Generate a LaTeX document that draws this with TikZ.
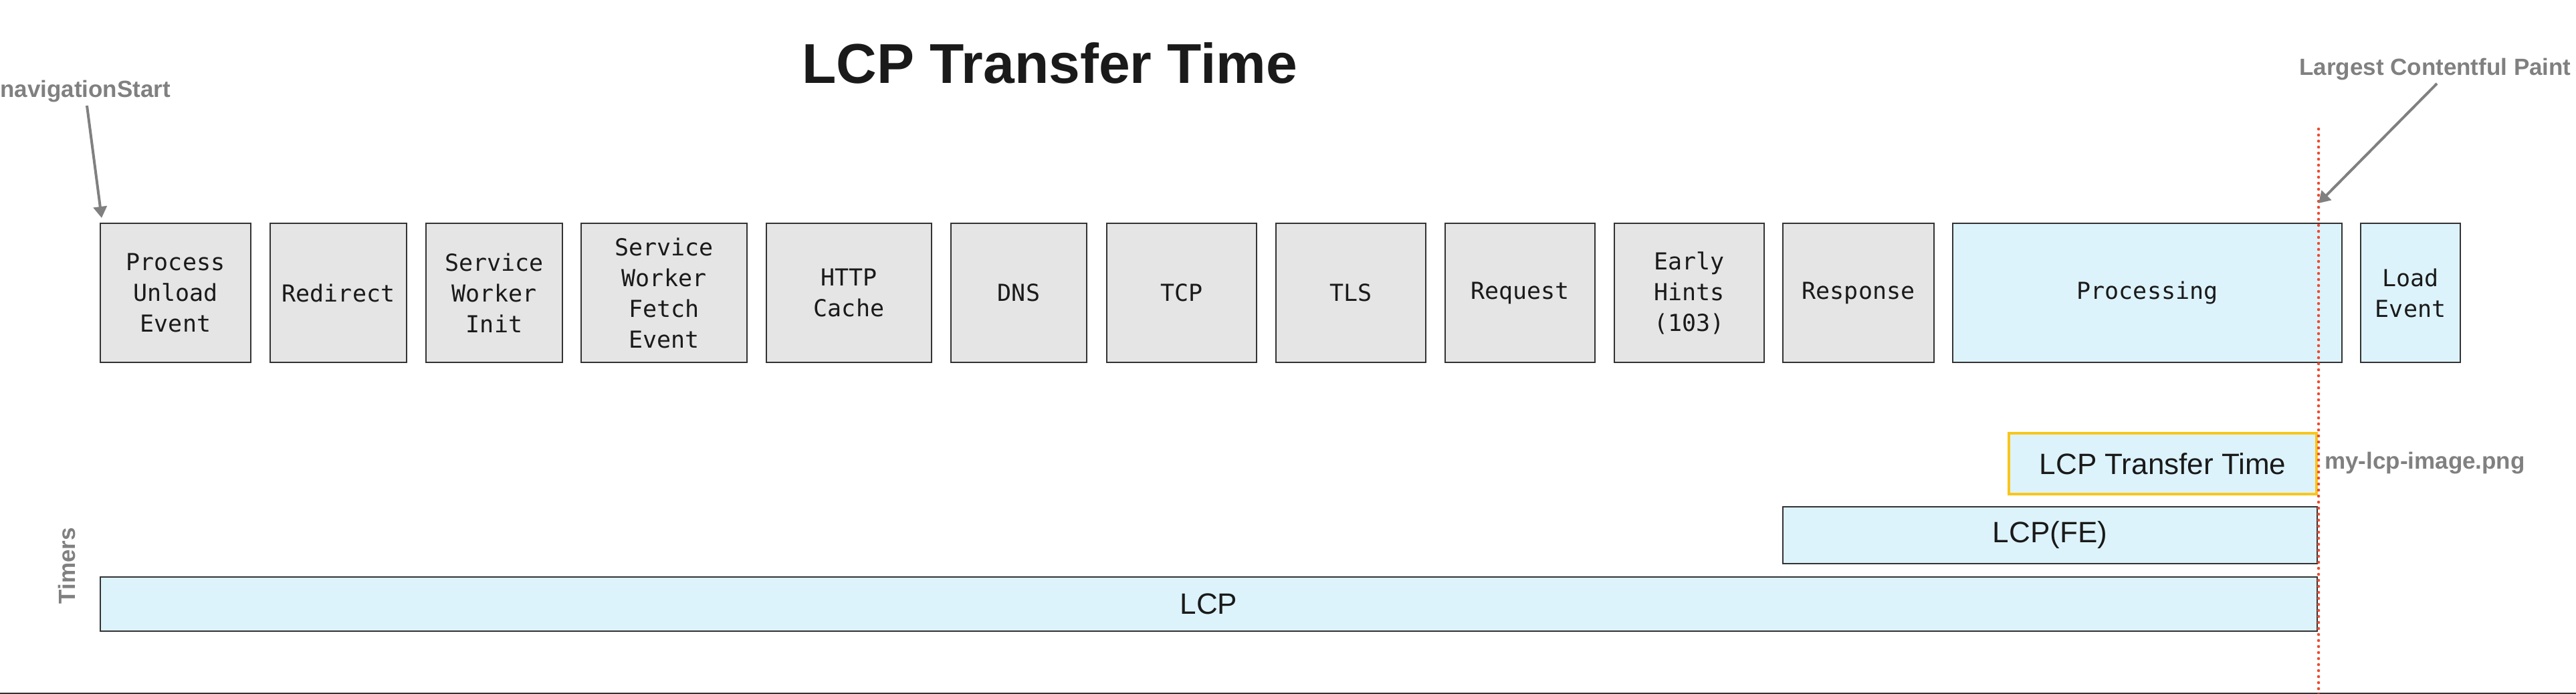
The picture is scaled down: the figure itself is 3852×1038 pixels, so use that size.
\documentclass[tikz,border=0pt]{standalone}
\usepackage{fontspec}
\setmainfont{Liberation Sans}
\newfontfamily\monof{DejaVu Sans Mono}
\usetikzlibrary{arrows.meta}
\definecolor{boxgray}{HTML}{E5E5E5}
\definecolor{boxblue}{HTML}{DDF3FB}
\definecolor{edge}{HTML}{333333}
\definecolor{labelgray}{HTML}{808080}
\definecolor{lcpred}{HTML}{F04A2F}
\definecolor{lcpyellow}{HTML}{F8C61B}
\definecolor{ink}{HTML}{1A1A1A}
\tikzset{
  phase/.style={draw=edge, line width=2pt, inner sep=0pt, anchor=north west,
    minimum height=208pt, align=center, text=ink,
    font=\monof\fontsize{35}{46}\selectfont},
  grayphase/.style={phase, fill=boxgray},
  bluephase/.style={phase, fill=boxblue},
  timer/.style={draw=edge, line width=2pt, fill=boxblue, inner sep=0pt, anchor=north west,
    text=ink, font=\fontsize{44}{50}\selectfont},
  note/.style={text=labelgray, inner sep=0pt, font=\bfseries\fontsize{35}{40}\selectfont},
  pointer/.style={draw=labelgray, line width=4pt, -{Triangle[length=17pt,width=20pt]}}
}
\begin{document}
\begin{tikzpicture}[x=1pt,y=-1pt]
\useasboundingbox (0,0) rectangle (3852,1038);
% title
\node[anchor=base, inner sep=0pt, text=ink, font=\bfseries\fontsize{84}{90}\selectfont] (title) at (1570,125) {LCP Transfer Time};
% phases
\node[grayphase, minimum width=225pt] (p1) at (149,333) {Process\\Unload\\Event};
\node[grayphase, minimum width=204pt] (p2) at (403,333) {Redirect};
\node[grayphase, minimum width=204pt] (p3) at (636,333) {Service\\Worker\\Init};
\node[grayphase, minimum width=248pt] (p4) at (868,333) {Service\\Worker\\Fetch\\Event};
\node[grayphase, minimum width=247pt] (p5) at (1145,333) {HTTP\\Cache};
\node[grayphase, minimum width=203pt] (p6) at (1421,333) {DNS};
\node[grayphase, minimum width=224pt] (p7) at (1654,333) {TCP};
\node[grayphase, minimum width=224pt] (p8) at (1907,333) {TLS};
\node[grayphase, minimum width=224pt] (p9) at (2160,333) {Request};
\node[grayphase, minimum width=224pt] (p10) at (2413,333) {Early\\Hints\\(103)};
\node[grayphase, minimum width=226pt] (p11) at (2665,333) {Response};
\node[bluephase, minimum width=582pt] (p12) at (2919,333) {Processing};
\node[bluephase, minimum width=149pt] (p13) at (3529,333) {Load\\Event};
% timers
\node[timer, draw=lcpyellow, line width=4pt, minimum width=460pt, minimum height=91pt] (ltt) at (3002,646) {LCP Transfer Time};
\node[timer, minimum width=799pt, minimum height=85pt] (lfe) at (2665,757) {LCP(FE)};
\node[timer, minimum width=3315pt, minimum height=81pt] (lcp) at (149,862) {LCP};
% side labels
\node[note, anchor=west] (nav) at (0,137) {navigationStart};
\node[note, anchor=west] (lcpnote) at (3438,104) {Largest Contentful Paint};
\node[note, anchor=west] (img) at (3476,693) {my-lcp-image.png};
\node[note, rotate=90] (timers) at (100,846) {Timers};
% bottom rule
\coordinate (bl) at (0,1037);
\coordinate (br) at (3852,1037);
\draw[edge, line width=2.5pt] (bl) -- (br);
% LCP marker line
\coordinate (redtop) at (3467,193);
\coordinate (redbot) at (3467,1040);
\draw[lcpred, line width=4.5pt, line cap=round, dash pattern=on 0pt off 9pt] (redtop) -- (redbot);
% pointers
\coordinate (navfrom) at (130,158);
\coordinate (navtip) at (152,326);
\draw[pointer] (navfrom) -- (navtip);
\coordinate (lcpfrom) at (3644,125);
\coordinate (lcptip) at (3467,304);
\draw[pointer] (lcpfrom) -- (lcptip);
\end{tikzpicture}
\end{document}
